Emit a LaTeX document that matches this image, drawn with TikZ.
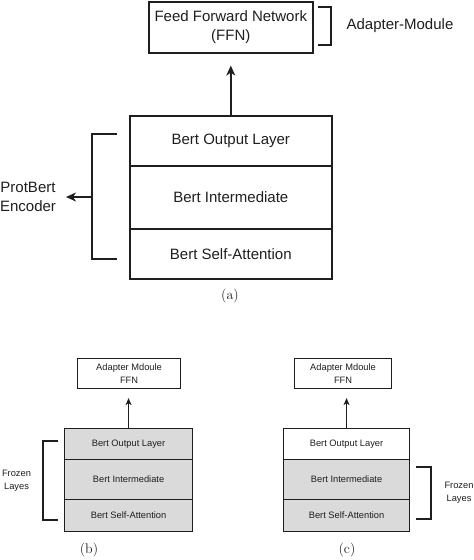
\documentclass[tikz,border=0pt]{standalone}
\usepackage{fontspec}
\newfontfamily\arial{Liberation Sans}
\usetikzlibrary{arrows.meta}
\definecolor{ink}{HTML}{1E1E1E}
\definecolor{frozen}{HTML}{DADADA}
\tikzset{
  big/.style={font=\arial\fontsize{15}{19}\selectfont, text=ink, align=center},
  small/.style={font=\arial\fontsize{9.3}{12.5}\selectfont, text=ink, align=center},
  bigbox/.style={draw=ink, line width=1.6pt, inner sep=0pt, anchor=north west},
  smallbox/.style={draw=ink, line width=1.1pt, inner sep=0pt, anchor=north west},
  arr/.style={-{Stealth[length=10pt,width=9pt,inset=3pt]}, line width=1.6pt, draw=ink},
  sarr/.style={-{Stealth[length=7pt,width=6pt,inset=2pt]}, line width=1.1pt, draw=ink},
  brk/.style={draw=ink, line width=1.6pt},
  sbrk/.style={draw=ink, line width=1.1pt},
  captxt/.style={font=\fontsize{14}{16}\selectfont, text=ink}
}
\begin{document}
\begin{tikzpicture}[x=1pt,y=-1pt]
\useasboundingbox (0,0) rectangle (474,560);
% ---------------- panel (a)
\node[bigbox, big, minimum width=164pt, minimum height=51pt] (ffn) at (148,1) {Feed Forward Network\\(FFN)};
\node[bigbox, big, minimum width=202pt, minimum height=50pt] (aout) at (129,115) {Bert Output Layer};
\node[bigbox, big, minimum width=202pt, minimum height=63pt] (aint) at (129,165) {Bert Intermediate};
\node[bigbox, big, minimum width=202pt, minimum height=50pt] (aself) at (129,228) {Bert Self-Attention};
\draw[arr] (aout.north) -- ([yshift=-12pt]ffn.south);
\coordinate (ab1) at (318,7);
\coordinate (ab2) at (331,7);
\coordinate (ab3) at (331,45);
\coordinate (ab4) at (318,45);
\draw[brk] (ab1) -- (ab2) -- (ab3) -- (ab4);
\node[big] (adm) at (400,26) {Adapter-Module};
\coordinate (lb1) at (117,134);
\coordinate (lb2) at (92,134);
\coordinate (lb3) at (92,259);
\coordinate (lb4) at (117,259);
\coordinate (lbm) at (92,197);
\coordinate (lbt) at (66,197);
\draw[brk] (lb1) -- (lb2) -- (lb3) -- (lb4);
\node[big] (enc) at (28,197) {ProtBert\\Encoder};
\draw[arr] (lbm) -- (lbt);
\node[captxt] (capa) at (230,296) {(a)};
% ---------------- panel (b)
\node[smallbox, small, minimum width=103pt, minimum height=30pt] (bad) at (77,358) {Adapter Mdoule\\FFN};
\node[smallbox, small, fill=frozen, minimum width=128pt, minimum height=31pt] (bout) at (64,428) {Bert Output Layer};
\node[smallbox, small, fill=frozen, minimum width=128pt, minimum height=40pt] (bint) at (64,459) {Bert Intermediate};
\node[smallbox, small, fill=frozen, minimum width=128pt, minimum height=32pt] (bself) at (64,499) {Bert Self-Attention};
\draw[sarr] (bout.north) -- ([yshift=-9pt]bad.south -| bout.north);
\coordinate (bb1) at (58,441);
\coordinate (bb2) at (43,441);
\coordinate (bb3) at (43,520);
\coordinate (bb4) at (58,520);
\draw[sbrk] (bb1) -- (bb2) -- (bb3) -- (bb4);
\node[small] (bfz) at (16.5,481) {Frozen\\Layes};
\node[captxt] (capb) at (89,550) {(b)};
% ---------------- panel (c)
\node[smallbox, small, minimum width=97pt, minimum height=30pt] (cad) at (294,358) {Adapter Mdoule\\FFN};
\node[smallbox, small, minimum width=126pt, minimum height=31pt] (cout) at (283,428) {Bert Output Layer};
\node[smallbox, small, fill=frozen, minimum width=126pt, minimum height=40pt] (cint) at (283,459) {Bert Intermediate};
\node[smallbox, small, fill=frozen, minimum width=126pt, minimum height=32pt] (cself) at (283,499) {Bert Self-Attention};
\draw[sarr] (cout.north) -- ([yshift=-9pt]cad.south -| cout.north);
\coordinate (cb1) at (416,467);
\coordinate (cb2) at (431,467);
\coordinate (cb3) at (431,519);
\coordinate (cb4) at (416,519);
\draw[sbrk] (cb1) -- (cb2) -- (cb3) -- (cb4);
\node[small, font=\arial\fontsize{9.3}{13}\selectfont] (cfz) at (459,493) {Frozen\\Layes};
\node[captxt] (capc) at (347,550) {(c)};
\end{tikzpicture}
\end{document}
